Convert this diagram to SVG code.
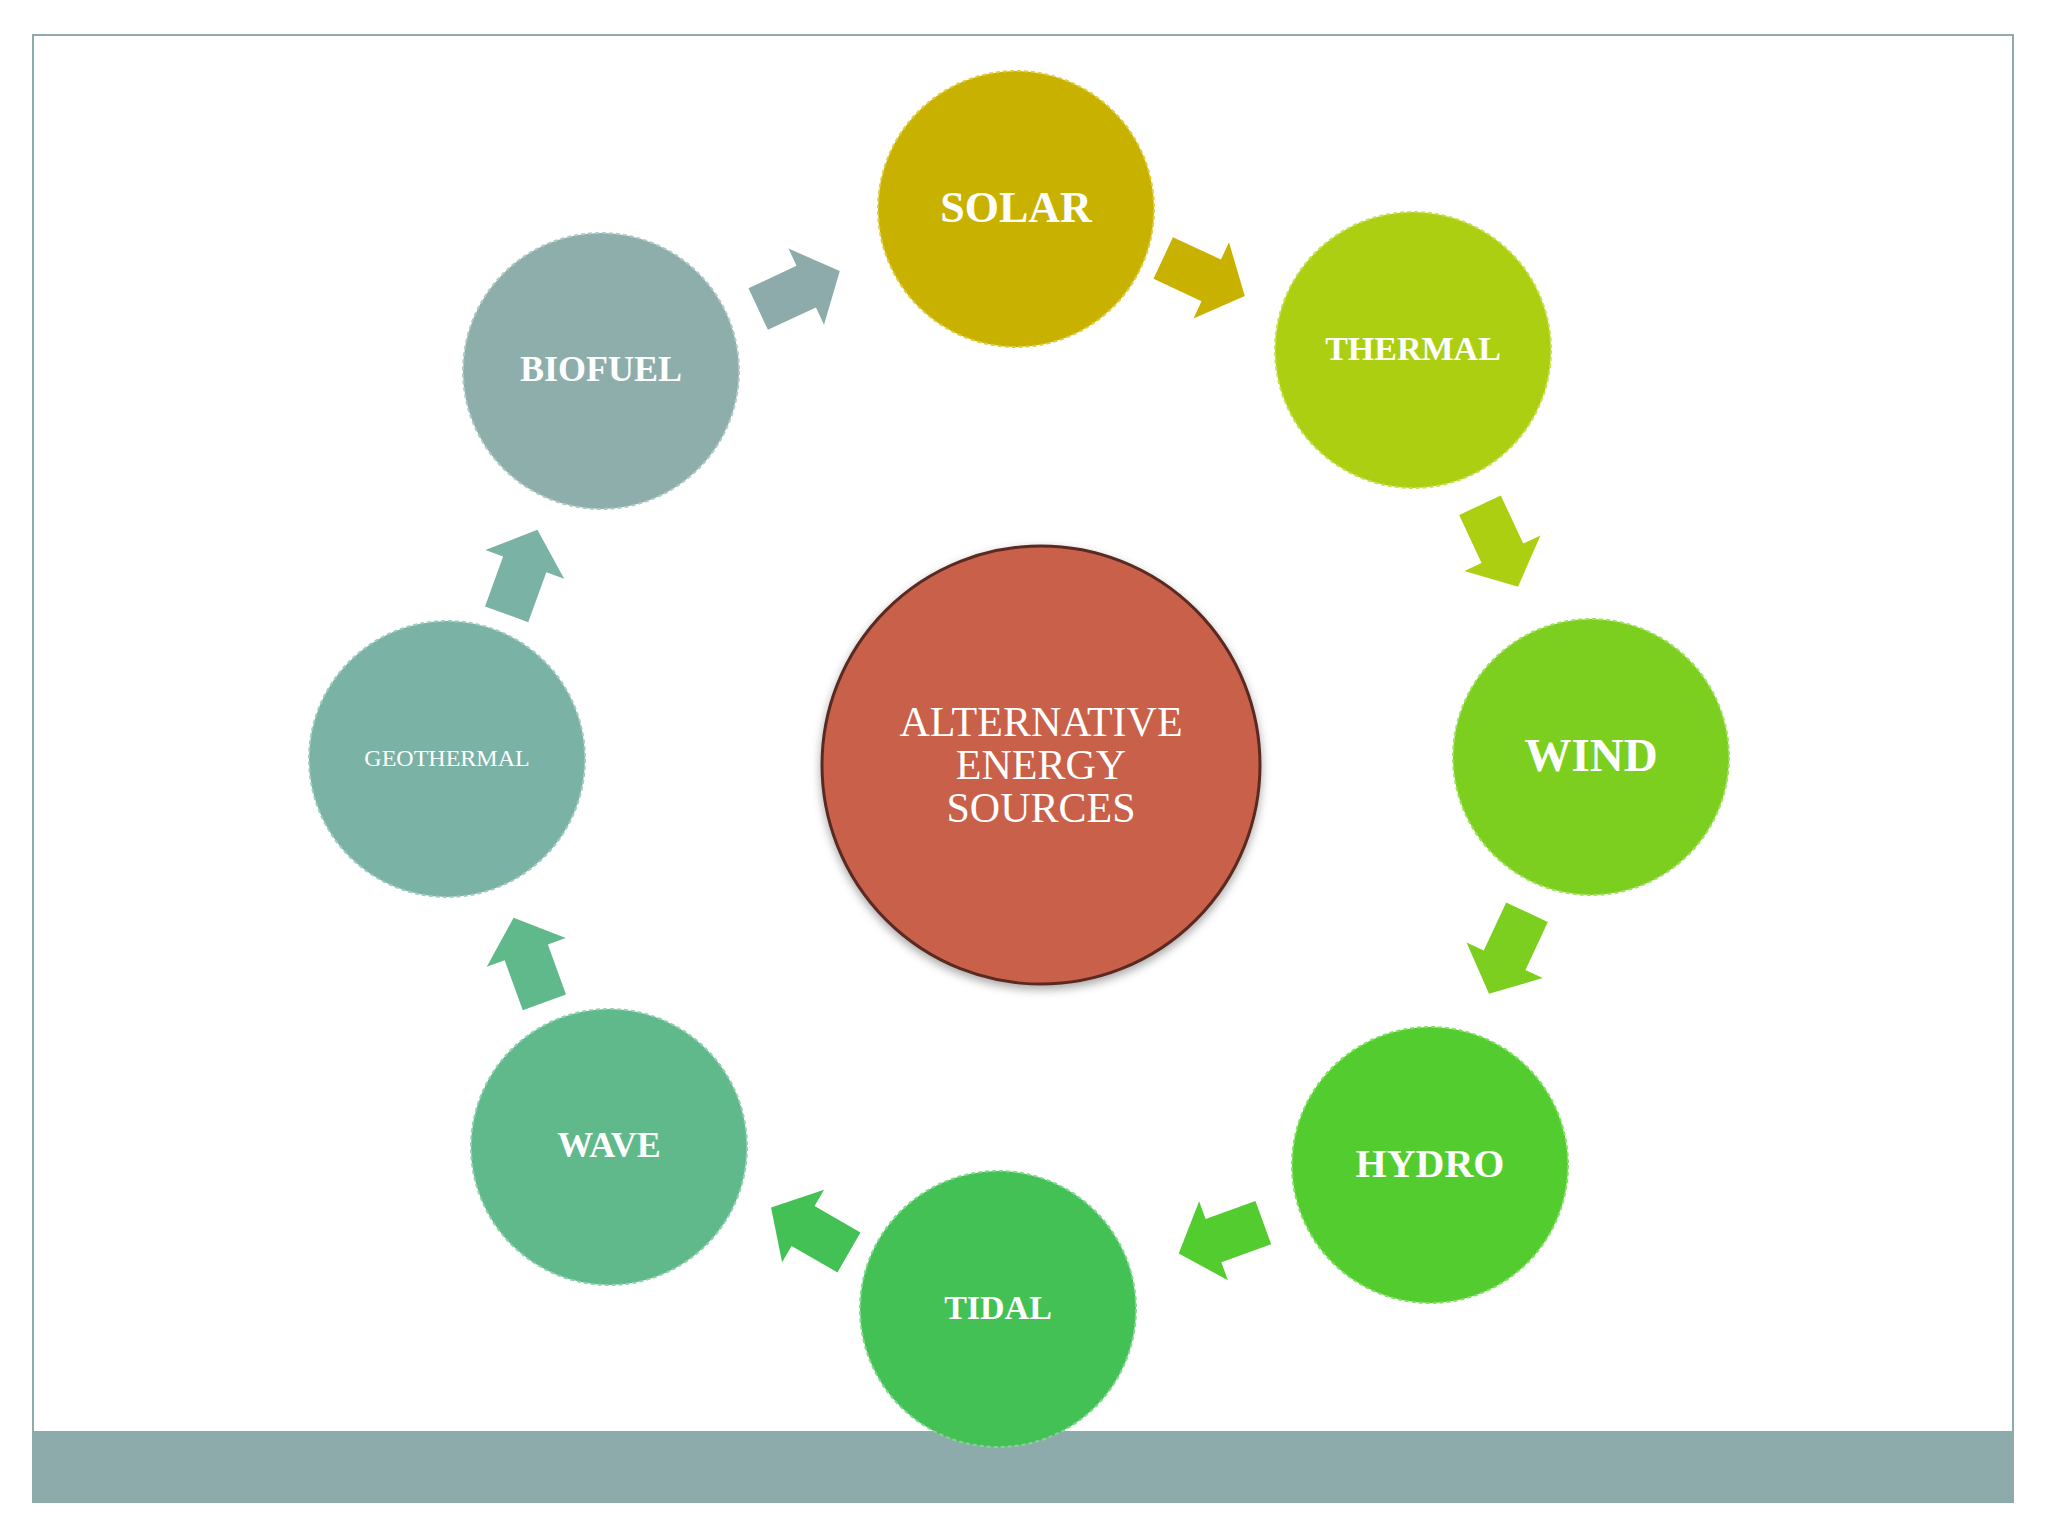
<svg xmlns="http://www.w3.org/2000/svg" width="2048" height="1536" viewBox="0 0 2048 1536">
<style>
.t{font-family:"Liberation Serif","Times New Roman",serif;fill:#fff;text-anchor:middle;dominant-baseline:central;font-weight:bold}
.n{stroke-width:2;stroke-dasharray:4 3}
</style>
<defs>
<path id="ar" d="M-45,-23 L8,-23 L8,-42 L45,0 L8,42 L8,23 L-45,23 Z"/>
<filter id="sh" x="-20%" y="-20%" width="140%" height="140%"><feDropShadow dx="0" dy="4" stdDeviation="5" flood-color="#000" flood-opacity="0.35"/></filter>
</defs>
<rect width="2048" height="1536" fill="#fff"/>
<rect x="33" y="35" width="1980" height="1467" fill="none" stroke="#8eabab" stroke-width="2"/>
<rect x="33" y="1431" width="1980" height="71" fill="#8eabab"/>
<g id="connectors">
<use href="#ar" fill="#8eabab" transform="translate(799,290) rotate(-25)"/>
<use href="#ar" fill="#c9b100" transform="translate(1204,277) rotate(25)"/>
<use href="#ar" fill="#acd011" transform="translate(1499,546) rotate(65)"/>
<use href="#ar" fill="#7ccf1f" transform="translate(1508,953) rotate(115)"/>
<use href="#ar" fill="#52cc2e" transform="translate(1221,1238) rotate(160)"/>
<use href="#ar" fill="#44c155" transform="translate(810,1230) rotate(210)"/>
<use href="#ar" fill="#60b98a" transform="translate(529,960) rotate(250)"/>
<use href="#ar" fill="#7ab3a6" transform="translate(522,572) rotate(290)"/>
</g>
<g id="center"><circle cx="1041" cy="765" r="219" fill="#c9604a" stroke="#5a2a20" stroke-width="3" filter="url(#sh)"/>
<text class="t" x="1041" y="722" style="font-weight:normal" font-size="42">ALTERNATIVE</text>
<text class="t" x="1041" y="765" style="font-weight:normal" font-size="42">ENERGY</text>
<text class="t" x="1041" y="808" style="font-weight:normal" font-size="42">SOURCES</text></g>
<g id="solar"><circle class="n" cx="1016" cy="209" r="138" fill="#c9b100" stroke="#e0cc40"/><text class="t" x="1016" y="207" font-size="44">SOLAR</text></g>
<g id="thermal"><circle class="n" cx="1413" cy="350" r="138" fill="#acd011" stroke="#c6e050"/><text class="t" x="1413" y="348" font-size="34">THERMAL</text></g>
<g id="wind"><circle class="n" cx="1591" cy="757" r="138" fill="#7ccf1f" stroke="#a0e060"/><text class="t" x="1591" y="755" font-size="47">WIND</text></g>
<g id="hydro"><circle class="n" cx="1430" cy="1165" r="138" fill="#52cc2e" stroke="#80e060"/><text class="t" x="1430" y="1163" font-size="40">HYDRO</text></g>
<g id="tidal"><circle class="n" cx="998" cy="1309" r="138" fill="#44c155" stroke="#80d890"/><text class="t" x="998" y="1307" font-size="34">TIDAL</text></g>
<g id="wave"><circle class="n" cx="609" cy="1147" r="138" fill="#60b98a" stroke="#90d0b0"/><text class="t" x="609" y="1145" font-size="36">WAVE</text></g>
<g id="geothermal"><circle class="n" cx="447" cy="759" r="138" fill="#7ab3a6" stroke="#a0ccc0"/><text class="t" x="447" y="758" font-size="24" style="font-weight:normal">GEOTHERMAL</text></g>
<g id="biofuel"><circle class="n" cx="601" cy="371" r="138" fill="#8eaeab" stroke="#b0c8c6"/><text class="t" x="601" y="369" font-size="36">BIOFUEL</text></g>
</svg>
